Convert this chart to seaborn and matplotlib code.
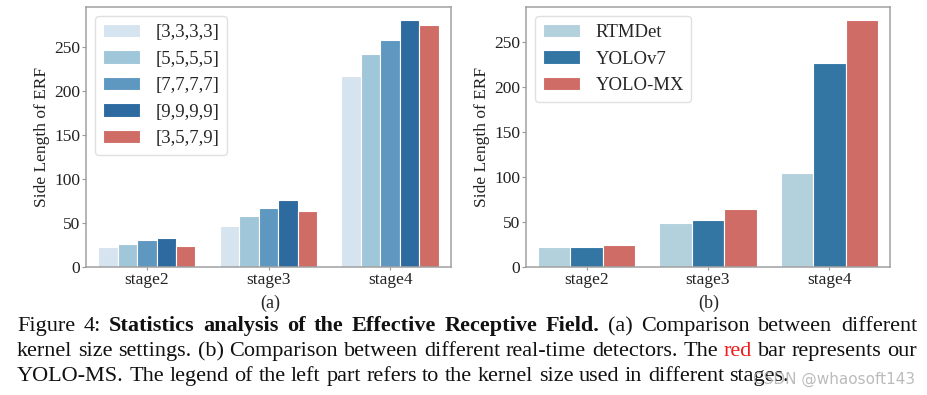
import pandas as pd
import matplotlib
matplotlib.use("Agg")
import matplotlib.pyplot as plt
import seaborn as sns

# --- data ---
stages = ["stage2", "stage3", "stage4"]

kernel_labels = ["[3,3,3,3]", "[5,5,5,5]", "[7,7,7,7]", "[9,9,9,9]", "[3,5,7,9]"]
k3333 = [22.7, 46, 217]
k5555 = [26.4, 58, 242]
k7777 = [31, 66.5, 258]
k9999 = [32.5, 76, 280]
k3579 = [24, 64, 275]
kernel_colors = ["#d6e4f0", "#a0c6d9", "#5e97bf", "#2d6aa0", "#d06c66"]

detector_labels = ["RTMDet", "YOLOv7", "YOLO-MX"]
rtmdet = [22, 49, 104]
yolov7 = [22, 52.5, 227]
yolomx = [24.5, 64.5, 275]
detector_colors = ["#b3d0dd", "#3376a3", "#cf6c66"]

kernel_df = pd.DataFrame({
    "stage": stages * 5,
    "erf": k3333 + k5555 + k7777 + k9999 + k3579,
    "kernel": [k for k in kernel_labels for _ in stages],
})
detector_df = pd.DataFrame({
    "stage": stages * 3,
    "erf": rtmdet + yolov7 + yolomx,
    "detector": [d for d in detector_labels for _ in stages],
})

sns.set_style("ticks")
plt.rcParams["font.family"] = ["Liberation Serif", "DejaVu Serif"]

fig = plt.figure(figsize=(9.27, 3.95), dpi=100)
W, H = 927, 395

ax_a = fig.add_axes([86 / W, 1 - 267 / H, 365 / W, 260 / H])
ax_b = fig.add_axes([526 / W, 1 - 267 / H, 364 / W, 260 / H])

sns.barplot(data=kernel_df, x="stage", y="erf", hue="kernel",
            palette=kernel_colors, saturation=1, edgecolor="white",
            linewidth=0.8, ax=ax_a)
sns.barplot(data=detector_df, x="stage", y="erf", hue="detector",
            palette=detector_colors, saturation=1, edgecolor="white",
            linewidth=0.8, ax=ax_b)

for ax in (ax_a, ax_b):
    ax.set_xlabel("")
    ax.set_ylabel("Side Length of ERF", fontsize=12.5, color="#222222",
                  labelpad=3)
    ax.tick_params(axis="both", labelsize=12.5, labelcolor="#222222",
                   color="#999999", width=0.8)
    ax.tick_params(axis="x", length=2, pad=1.5)
    ax.tick_params(axis="y", length=3, pad=1)
    for sp in ax.spines.values():
        sp.set_visible(True)
        sp.set_color("#a0a0a0")
        sp.set_linewidth(1.1)
    sns.move_legend(ax, "upper left", title=None, fontsize=13.5, frameon=True,
                    edgecolor="#e0e0e0", framealpha=1, borderaxespad=0.5)

ax_a.set_ylim(0, 295)
ax_b.set_ylim(0, 289)

fig.text(270 / W, 1 - 308 / H, "(a)", ha="center", va="baseline", fontsize=13)
fig.text(709 / W, 1 - 308 / H, "(b)", ha="center", va="baseline", fontsize=13)

# --- caption, placed word by word ---
cap_size = 16
renderer = fig.canvas.get_renderer()


def word_width(word, weight):
    t = fig.text(0, 0, word, fontsize=cap_size, fontweight=weight)
    w = t.get_window_extent(renderer).width
    t.remove()
    return w


def caption_line(runs, baseline, x0, x1, justify):
    words = []
    for text, weight, color in runs:
        for w in text.split():
            words.append((w, weight, color))
    widths = [word_width(w, wt) for w, wt, _ in words]
    if justify:
        gap = (x1 - x0 - sum(widths)) / (len(words) - 1)
    else:
        gap = cap_size * 100 / 72 * 0.25
    x = x0
    for (w, wt, c), wd in zip(words, widths):
        fig.text(x / W, 1 - baseline / H, w, fontsize=cap_size, fontweight=wt,
                 color=c, ha="left", va="baseline")
        x += wd + gap


caption_line([("Figure 4:", "normal", "#111111"),
              ("Statistics analysis of the Effective Receptive Field.", "bold", "#111111"),
              ("(a) Comparison between different", "normal", "#111111")],
             331, 17, 917, True)
caption_line([("kernel size settings. (b) Comparison between different real-time detectors. The",
               "normal", "#111111"),
              ("red", "normal", "#ee1c1c"),
              ("bar represents our", "normal", "#111111")],
             356, 17, 917, True)
caption_line([("YOLO-MS. The legend of the left part refers to the kernel size used in different stages.",
               "normal", "#111111")],
             381, 17, 917, False)

fig.text(753 / W, 1 - 384 / H, "CSDN @whaosoft143", fontsize=11,
         family="DejaVu Sans", color="#b0b0b0", alpha=0.85, va="baseline")

fig.savefig("out.png", dpi=100)
